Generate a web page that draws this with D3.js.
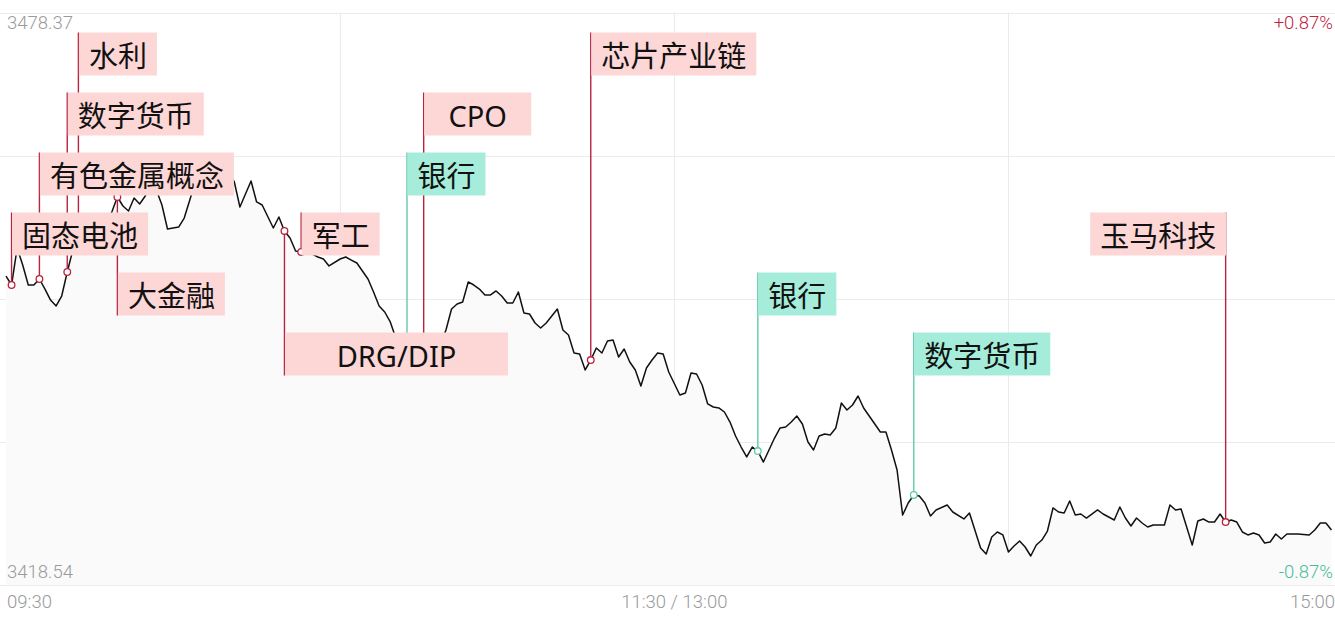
<!DOCTYPE html>
<html>
<head>
<meta charset="utf-8">
<script src="https://cdn.jsdelivr.net/npm/d3@7"></script>
<style>
  html, body { margin: 0; padding: 0; background: #fff; }
  svg { display: block; }
</style>
</head>
<body>
<svg id="chart" width="1335" height="620"></svg>
<script>
// ---------------- data ----------------
const prevClose = 3448.455;
const yLabels = ["3478.37", "3418.54"];
const pctLabels = ["+0.87%", "-0.87%"];
const timeTicks = [0, 120, 240];
const timeLabels = ["09:30", "11:30 / 13:00", "15:00"];

// minute offset from 09:30 (afternoon continues after 120)
const minutes = [0,1,2,3,4,5,6,7,8,9,10,11,12,13,14,15,16,17,18,19,20,21,22,23,24,25,26,27,28,29,30,31,32,33,34,35,36,37,38,39,40,41,42,44,45,46,48,49,50,51,52,53,54,55,56,57,58,60,61,62,63,65,66,67,68,69,70,72,74,75,77,78,79,80,81,82,83,84,85,86,87,88,89,90,91,92,93,94,95,96,97,98,99,100,101,102,103,104,105,106,107,108,109,110,111,112,113,114,115,116,117,118,119,121,122,123,124,125,126,127,128,129,130,131,132,133,134,135,136,137,138,139,140,141,142,143,144,145,146,147,148,149,150,151,152,153,154,155,156,157,158,159,160,161,162,163,164,165,166,167,169,170,172,173,175,176,177,178,179,180,181,182,183,184,185,186,187,188,189,190,191,192,193,194,196,197,199,200,201,202,203,204,205,206,208,209,210,211,213,214,215,216,217,218,219,220,221,222,223,224,225,226,227,228,229,230,232,234,235,236,237,238];
const prices = [3450.83,3449.89,3453.76,3451.98,3449.89,3449.89,3450.52,3449.47,3448.32,3447.70,3448.74,3451.25,3453.55,3454.80,3455.85,3455.01,3456.06,3455.33,3456.48,3457.52,3459.09,3458.15,3457.63,3458.98,3458.36,3459.19,3460.45,3459.82,3458.25,3455.74,3455.85,3455.95,3456.89,3458.77,3460.66,3461.70,3460.87,3460.34,3459.51,3461.07,3461.70,3460.66,3458.04,3460.76,3458.57,3458.25,3455.85,3457.00,3455.54,3454.80,3453.44,3453.34,3453.55,3453.13,3452.82,3452.61,3451.88,3452.61,3452.82,3452.50,3452.19,3450.52,3449.16,3447.70,3447.07,3446.03,3444.35,3443.10,3442.05,3443.10,3442.26,3443.62,3445.19,3447.38,3447.91,3448.12,3450.21,3449.89,3449.47,3448.85,3448.85,3449.27,3448.74,3448.01,3448.01,3449.16,3446.97,3446.86,3445.92,3445.40,3445.92,3446.65,3447.38,3445.19,3444.67,3442.79,3442.68,3441.01,3442.05,3443.31,3442.79,3444.04,3444.14,3442.37,3443.20,3441.85,3441.01,3439.34,3441.22,3442.05,3442.79,3442.68,3440.80,3438.40,3438.61,3440.70,3440.59,3439.44,3437.46,3437.14,3437.04,3436.62,3435.57,3434.11,3432.96,3431.92,3432.96,3432.54,3431.39,3432.65,3433.90,3434.95,3435.05,3435.57,3436.20,3435.37,3433.48,3432.65,3434.11,3434.32,3434.22,3434.95,3437.56,3436.83,3437.35,3438.29,3437.04,3436.20,3435.37,3434.53,3434.53,3432.65,3430.56,3425.85,3427.11,3427.95,3427.84,3427.11,3425.75,3426.38,3426.90,3426.17,3425.44,3426.06,3422.41,3421.78,3423.56,3424.08,3423.77,3421.99,3422.62,3423.14,3422.51,3421.57,3422.72,3423.24,3424.18,3426.59,3426.17,3426.06,3427.32,3425.85,3425.96,3425.54,3426.38,3425.96,3425.33,3426.69,3425.54,3424.71,3425.54,3425.02,3424.60,3424.81,3424.81,3426.90,3426.38,3426.48,3422.72,3425.23,3425.44,3425.12,3425.12,3425.96,3425.12,3425.33,3425.12,3424.08,3423.77,3423.97,3423.77,3422.93,3423.03,3423.87,3423.35,3423.87,3423.87,3423.77,3424.29,3425.02,3425.02,3424.29];

// event annotations
const noteMinutes = [1, 6, 11, 13, 20, 50, 53, 72, 75, 105, 135, 163, 219];
const noteNames = ["固态电池", "有色金属概念", "数字货币", "水利", "大金融", "DRG/DIP", "军工", "银行", "CPO", "芯片产业链", "银行", "数字货币", "玉马科技"];
const noteKinds = ["up", "up", "up", "up", "up", "up", "up", "down", "up", "up", "down", "down", "up"];
const noteRows = [3, 2, 1, 0, 4, 5, 3, 2, 1, 0, 4, 5, 3];

(function () {
// ---------------- layout / style ----------------
const W = 1335, H = 620;
const plotL = 6, plotR = 1342.6, plotT = 12.5, plotB = 585;
const rowTop0 = 32.5, rowStep = 60, boxH = 43, fontPx = 29, padX = 10;
const col = {
  up: { box: "#fdd6d6", stem: "#b8233f" },
  down: { box: "#a5edda", stem: "#62c9ad" }
};

const svg = d3.select("#chart");
const x = d3.scaleLinear().domain([0, 240]).range([plotL, plotR]);
const y = d3.scaleLinear().domain([3418.54, 3478.37]).range([plotB, plotT]);

// grid
const hVals = d3.range(5).map(i => 3418.54 + i * (3478.37 - 3418.54) / 4);
svg.append("g").selectAll("line").data(hVals).join("line")
  .attr("x1", 0).attr("x2", W)
  .attr("y1", d => Math.round(y(d)) + 0.5).attr("y2", d => Math.round(y(d)) + 0.5)
  .attr("stroke", "#ebebeb").attr("stroke-width", 1);
svg.append("g").selectAll("line").data([60, 120, 180]).join("line")
  .attr("x1", d => Math.round(x(d)) + 0.5).attr("x2", d => Math.round(x(d)) + 0.5)
  .attr("y1", y(3478.37)).attr("y2", y(3418.54))
  .attr("stroke", "#ebebeb").attr("stroke-width", 1);

const pts = minutes.map((m, i) => ({ m, p: prices[i] }));

// area + line
svg.append("path").datum(pts)
  .attr("d", d3.area().x(d => x(d.m)).y0(plotB).y1(d => y(d.p)))
  .attr("fill", "#fafafa");
svg.append("path").datum(pts)
  .attr("d", d3.line().x(d => x(d.m)).y(d => y(d.p)))
  .attr("fill", "none").attr("stroke", "#111").attr("stroke-width", 1.5)
  .attr("stroke-linejoin", "round");

// annotations
const notes = noteMinutes.map((m, i) => {
  const p = prices[minutes.indexOf(m)];
  const mx = x(m), my = y(p);
  const bt = rowTop0 + noteRows[i] * rowStep;
  const w = noteNames[i].length * fontPx + 2 * padX;
  let bx = mx;
  if (bx + w > W) bx = mx - w;
  const below = bt > my;
  return { name: noteNames[i], kind: noteKinds[i], mx, my, bt, w, bx, below };
});

const gStem = svg.append("g");
notes.forEach(n => {
  gStem.append("line")
    .attr("x1", n.mx).attr("x2", n.mx)
    .attr("y1", n.my).attr("y2", n.below ? n.bt + boxH : n.bt)
    .attr("stroke", col[n.kind].stem).attr("stroke-width", 1.4);
  gStem.append("circle")
    .attr("cx", n.mx).attr("cy", n.my).attr("r", 3.3)
    .attr("fill", "#fff").attr("stroke", col[n.kind].stem).attr("stroke-width", 1.3);
});
const gBox = svg.append("g");
notes.forEach(n => {
  gBox.append("rect")
    .attr("x", n.bx + 0.5).attr("y", n.bt).attr("width", n.w).attr("height", boxH)
    .attr("fill", col[n.kind].box);
  gBox.append("text")
    .attr("x", n.bx + 0.5 + n.w / 2).attr("y", n.bt + boxH / 2 + 1)
    .attr("text-anchor", "middle").attr("dominant-baseline", "central")
    .attr("font-family", "'Noto Sans', 'Noto Sans CJK SC', sans-serif")
    .attr("font-size", fontPx).attr("fill", "#111")
    .text(n.name);
});

// axis labels
const lab = svg.append("g").attr("font-family", "Roboto, 'Noto Sans', sans-serif")
  .attr("font-weight", 300).attr("font-size", 18.5);
lab.append("text").attr("x", 7).attr("y", 29).attr("fill", "#9a9a9a").text(yLabels[0]);
lab.append("text").attr("x", 7).attr("y", 578).attr("fill", "#9a9a9a").text(yLabels[1]);
lab.append("text").attr("x", 1333).attr("y", 29).attr("text-anchor", "end").attr("fill", "#c0243f").text(pctLabels[0]);
lab.append("text").attr("x", 1333).attr("y", 578).attr("text-anchor", "end").attr("fill", "#48bd9c").text(pctLabels[1]);
timeTicks.forEach((t, i) => {
  const anchor = i === 0 ? "start" : (i === timeTicks.length - 1 ? "end" : "middle");
  const tx = i === 0 ? 7 : (i === timeTicks.length - 1 ? 1335 : x(t));
  lab.append("text").attr("x", tx).attr("y", 608).attr("text-anchor", anchor)
    .attr("fill", "#9a9a9a").text(timeLabels[i]);
});
})();
</script>
</body>
</html>
